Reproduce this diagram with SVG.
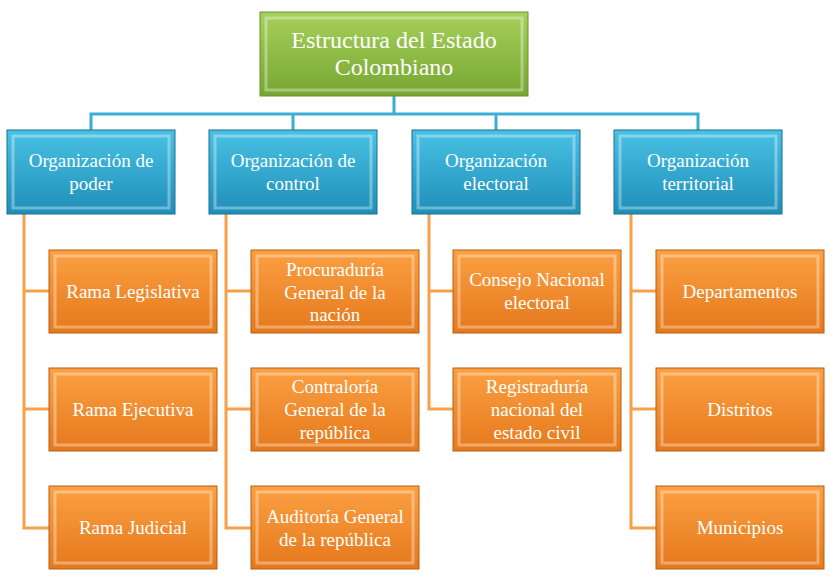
<svg xmlns="http://www.w3.org/2000/svg" width="830" height="582" viewBox="0 0 830 582">
<defs>
<linearGradient id="gg" x1="0" y1="0" x2="0" y2="1"><stop offset="0" stop-color="#a6d15a"/><stop offset="1" stop-color="#77a632"/></linearGradient>
<linearGradient id="bg" x1="0" y1="0" x2="0" y2="1"><stop offset="0" stop-color="#49c1e4"/><stop offset="1" stop-color="#1f8fb8"/></linearGradient>
<linearGradient id="og" x1="0" y1="0" x2="0" y2="1"><stop offset="0" stop-color="#fba042"/><stop offset="1" stop-color="#e5791c"/></linearGradient>
</defs>
<style>
text{font-family:"Liberation Serif",serif;fill:#fff;text-anchor:middle;font-size:19px}
.t{font-size:24px}
.g{fill:url(#gg);stroke:#6a8f30;stroke-width:1}
.b{fill:url(#bg);stroke:#1b6f8f;stroke-width:1}
.o{fill:url(#og);stroke:#b65e14;stroke-width:1}
.i{fill:none;stroke:#fff;stroke-opacity:0.35;stroke-width:3}
.cb{stroke:#3aaed6;stroke-width:3;fill:none}
.co{stroke:#f7a04a;stroke-width:3;fill:none}
</style>
<g id="connectors">
<path class="cb" d="M394 96V114M91 130V114H698V130M293 114V130M496 114V130"/>
<path class="co" d="M24 214V528H49M24 291H49M24 409H49"/>
<path class="co" d="M226 214V528H251M226 291H251M226 409H251"/>
<path class="co" d="M429 214V409H453M429 291H453"/>
<path class="co" d="M631 214V528H656M631 291H656M631 409H656"/>
</g>
<g id="root"><rect class="g" x="260" y="12" width="268" height="84"/><rect class="i" x="266" y="18" width="256" height="72"/><text class="t" x="394" y="48">Estructura del Estado</text><text class="t" x="394" y="75">Colombiano</text></g>
<g id="poder"><rect class="b" x="7" y="130" width="168" height="84"/><rect class="i" x="13" y="136" width="156" height="72"/><text x="91" y="167">Organización  de</text><text x="91" y="190">poder</text></g>
<g id="control"><rect class="b" x="209" y="130" width="168" height="84"/><rect class="i" x="215" y="136" width="156" height="72"/><text x="293" y="167">Organización  de</text><text x="293" y="190">control</text></g>
<g id="electoral"><rect class="b" x="412" y="130" width="168" height="84"/><rect class="i" x="418" y="136" width="156" height="72"/><text x="496" y="167">Organización</text><text x="496" y="190">electoral</text></g>
<g id="territorial"><rect class="b" x="614" y="130" width="168" height="84"/><rect class="i" x="620" y="136" width="156" height="72"/><text x="698" y="167">Organización</text><text x="698" y="190">territorial</text></g>
<g id="legislativa"><rect class="o" x="49" y="250" width="168" height="83"/><rect class="i" x="55" y="256" width="156" height="71"/><text x="133" y="298">Rama  Legislativa</text></g>
<g id="ejecutiva"><rect class="o" x="49" y="368" width="168" height="83"/><rect class="i" x="55" y="374" width="156" height="71"/><text x="133" y="416">Rama  Ejecutiva</text></g>
<g id="judicial"><rect class="o" x="49" y="486" width="168" height="83"/><rect class="i" x="55" y="492" width="156" height="71"/><text x="133" y="534">Rama  Judicial</text></g>
<g id="procuraduria"><rect class="o" x="251" y="250" width="168" height="83"/><rect class="i" x="257" y="256" width="156" height="71"/><text x="335" y="276">Procuraduría</text><text x="335" y="299">General  de la</text><text x="335" y="321">nación</text></g>
<g id="contraloria"><rect class="o" x="251" y="368" width="168" height="83"/><rect class="i" x="257" y="374" width="156" height="71"/><text x="335" y="393">Contraloría</text><text x="335" y="416">General  de la</text><text x="335" y="439">república</text></g>
<g id="auditoria"><rect class="o" x="251" y="486" width="168" height="83"/><rect class="i" x="257" y="492" width="156" height="71"/><text x="335" y="523">Auditoría General</text><text x="335" y="546">de la república</text></g>
<g id="consejo"><rect class="o" x="453" y="250" width="168" height="83"/><rect class="i" x="459" y="256" width="156" height="71"/><text x="537" y="286">Consejo Nacional</text><text x="537" y="309">electoral</text></g>
<g id="registraduria"><rect class="o" x="453" y="368" width="168" height="83"/><rect class="i" x="459" y="374" width="156" height="71"/><text x="537" y="393">Registraduría</text><text x="537" y="416">nacional del</text><text x="537" y="439">estado civil</text></g>
<g id="departamentos"><rect class="o" x="656" y="250" width="168" height="83"/><rect class="i" x="662" y="256" width="156" height="71"/><text x="740" y="298">Departamentos</text></g>
<g id="distritos"><rect class="o" x="656" y="368" width="168" height="83"/><rect class="i" x="662" y="374" width="156" height="71"/><text x="740" y="416">Distritos</text></g>
<g id="municipios"><rect class="o" x="656" y="486" width="168" height="83"/><rect class="i" x="662" y="492" width="156" height="71"/><text x="740" y="534">Municipios</text></g>
</svg>
